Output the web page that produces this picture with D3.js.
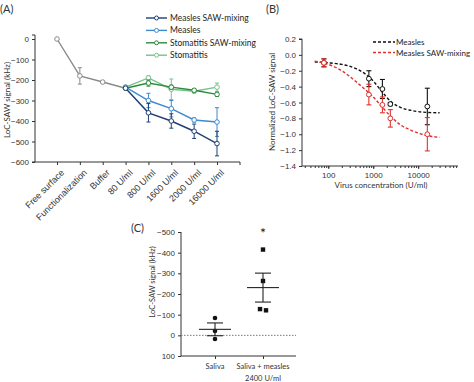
<!DOCTYPE html>
<html>
<head>
<meta charset="utf-8">
<script src="https://cdn.jsdelivr.net/npm/d3@7"></script>
<style>
  body { margin: 0; background: #fff; }
  svg { font-family: Lato, "Open Sans", sans-serif; }
  .axis path, .axis line { stroke: #333; }
  .axis text { fill: #333; font-size: 8px; }
</style>
</head>
<body>
<svg id="chart" width="474" height="382"></svg>
<script>
"use strict";

// ---- panel A data ----
const catsA = ["Free surface", "Functionalization", "Buffer", "80 U/ml", "800 U/ml", "1600 U/ml", "2000 U/ml", "16000 U/ml"];
const ticksA = [0, -100, -200, -300, -400, -500, -600];
const baseCats = ["Free surface", "Functionalization", "Buffer", "80 U/ml"];
const baseVals = [0, -180, -210, -240];
const baseErr = [0, 40, 5, 5];
const virusCats = ["80 U/ml", "800 U/ml", "1600 U/ml", "2000 U/ml", "16000 U/ml"];
const measlesSawVals = [-240, -360, -400, -450, -510];
const measlesSawErr = [5, 45, 35, 35, 60];
const measlesVals = [-235, -300, -340, -395, -405];
const measlesErr = [5, 35, 40, 10, 70];
const stomSawVals = [-240, -215, -235, -250, -270];
const stomSawErr = [5, 15, 10, 8, 10];
const stomVals = [-235, -190, -245, -255, -235];
const stomErr = [5, 10, 50, 8, 20];
const seriesNamesA = ["Measles SAW-mixing", "Measles", "Stomatitis SAW-mixing", "Stomatitis"];

// ---- panel B data ----
const concB = [80, 800, 1600, 2400, 16000];
const measlesNorm = [-0.10, -0.30, -0.43, -0.62, -0.65];
const measlesNormErr = [0.05, 0.10, 0.12, 0.02, 0.23];
const sawNorm = [-0.10, -0.50, -0.63, -0.80, -1.00];
const sawNormErr = [0.05, 0.13, 0.10, 0.11, 0.21];
const fitX = [50, 100, 200, 400, 700, 1000, 1600, 2500, 4000, 7000, 12000, 30000];
const fitMeasles = [-0.09, -0.10, -0.12, -0.17, -0.25, -0.33, -0.47, -0.59, -0.66, -0.70, -0.72, -0.73];
const fitSaw = [-0.08, -0.12, -0.20, -0.33, -0.45, -0.53, -0.66, -0.78, -0.88, -0.95, -1.00, -1.04];
const ticksB = [0.2, 0.0, -0.2, -0.4, -0.6, -0.8, -1.0, -1.2, -1.4];
const seriesNamesB = ["Measles", "Measles SAW-mixing"];

// ---- panel C data ----
const catsC = ["Saliva", "Saliva + measles"];
const ticksC = [-500, -400, -300, -200, -100, 0, 100];
const salivaPts = [-84, -21, 18];
const salivaMean = -29, salivaSem = 31;
const measlesPts = [-415, -263, -127, -121];
const measlesJit = [0, 0, -3, 3];
const measlesMean = -231, measlesSem = 70;

const svg = d3.select("#chart");

// ================= Panel A =================
const colA = ["#1d3f74", "#3d8ad0", "#2b8a3e", "#79c08a"];
const xA = d3.scalePoint().domain(catsA).range([57, 217]);
const yA = d3.scaleLinear().domain([-600, 0]).range([162, 39]);

const gA = svg.append("g");
gA.append("g").attr("class", "axis")
  .attr("transform", "translate(35,0)")
  .call(d3.axisLeft(yA).tickValues(ticksA).tickSize(3).tickFormat(d3.format("d")))
  .call(g => g.select(".domain").attr("d", "M-3,35H0V162H-3"));
const axA = gA.append("g").attr("class", "axis")
  .attr("transform", "translate(0,162)")
  .call(d3.axisBottom(xA).tickSize(3).tickSizeOuter(0));
axA.select(".domain").attr("d", "M35,0H240V3");
axA.selectAll("text")
  .attr("text-anchor", "end")
  .attr("dy", 0)
  .style("font-size", "9px")
  .attr("transform", "translate(3,7) rotate(-45)");

gA.append("text").attr("transform", "translate(10,100) rotate(-90)")
  .attr("text-anchor", "middle").attr("font-size", 8).attr("fill", "#333")
  .text("LoC-SAW signal (kHz)");
gA.append("text").attr("x", 0).attr("y", 13).attr("font-size", 11).attr("fill", "#333").text("(A)");

const lineA = d3.line().x(d => xA(d.c)).y(d => yA(d.v));

function drawSeriesA(cats, vals, errs, color) {
  const pts = cats.map((c, i) => ({ c: c, v: vals[i], e: errs[i] }));
  gA.append("path").datum(pts).attr("d", lineA)
    .attr("fill", "none").attr("stroke", color).attr("stroke-width", 1.4);
  const eb = gA.append("g").attr("stroke", color).attr("stroke-width", 1);
  pts.filter(d => d.e > 6).forEach(d => {
    const x = xA(d.c);
    eb.append("line").attr("x1", x).attr("x2", x).attr("y1", yA(d.v - d.e)).attr("y2", yA(d.v + d.e));
    eb.append("line").attr("x1", x - 2).attr("x2", x + 2).attr("y1", yA(d.v - d.e)).attr("y2", yA(d.v - d.e));
    eb.append("line").attr("x1", x - 2).attr("x2", x + 2).attr("y1", yA(d.v + d.e)).attr("y2", yA(d.v + d.e));
  });
  gA.append("g").selectAll("circle").data(pts).join("circle")
    .attr("cx", d => xA(d.c)).attr("cy", d => yA(d.v)).attr("r", 2.3)
    .attr("fill", "#fff").attr("stroke", color).attr("stroke-width", 1);
}

drawSeriesA(baseCats, baseVals, baseErr, "#8a8a8a");
drawSeriesA(virusCats, stomVals, stomErr, colA[3]);
drawSeriesA(virusCats, stomSawVals, stomSawErr, colA[2]);
drawSeriesA(virusCats, measlesVals, measlesErr, colA[1]);
drawSeriesA(virusCats, measlesSawVals, measlesSawErr, colA[0]);

const legA = gA.append("g");
seriesNamesA.forEach((n, i) => {
  const y = 18 + i * 12.4;
  legA.append("line").attr("x1", 146).attr("x2", 167).attr("y1", y).attr("y2", y)
    .attr("stroke", colA[i]).attr("stroke-width", 1.4);
  legA.append("circle").attr("cx", 156.5).attr("cy", y).attr("r", 2)
    .attr("fill", "#fff").attr("stroke", colA[i]);
  legA.append("text").attr("x", 170).attr("y", y + 3).attr("font-size", 8.5).attr("fill", "#222").text(n);
});

// ================= Panel B =================
const colB = ["#111", "#e0302c"];
const xB = d3.scaleLog().domain([26, 77000]).range([302, 458]);
const yB = d3.scaleLinear().domain([-1.4, 0.2]).range([166, 39]);

const gB = svg.append("g");
gB.append("g").attr("class", "axis")
  .attr("transform", "translate(302,0)")
  .call(d3.axisLeft(yB).tickValues(ticksB).tickSize(3).tickFormat(d3.format(".1f")))
  .call(g => g.select(".domain").attr("d", "M-3,39H0V166"));
const minorB = [];
[10, 100, 1000, 10000].forEach(dec => { for (let k = 1; k < 10; k++) { const v = dec * k; if (v >= 30 && v <= 70000) minorB.push(v); } });
const axB = gB.append("g").attr("class", "axis")
  .attr("transform", "translate(0,166)")
  .call(d3.axisBottom(xB).tickValues(minorB).tickSize(2).tickFormat(""));
axB.select(".domain").attr("d", "M302,0H458");
gB.append("g").attr("class", "axis")
  .attr("transform", "translate(0,166)")
  .call(d3.axisBottom(xB).tickValues([100, 1000, 10000]).tickSize(3).tickFormat(d3.format("d")))
  .call(g => g.select(".domain").remove());

gB.append("text").attr("x", 381).attr("y", 188).attr("text-anchor", "middle")
  .attr("font-size", 8).attr("fill", "#333").text("Virus concentration (U/ml)");
gB.append("text").attr("transform", "translate(275,102) rotate(-90)")
  .attr("text-anchor", "middle").attr("font-size", 8).attr("fill", "#333")
  .text("Normalized LoC-SAW signal");
gB.append("text").attr("x", 266).attr("y", 13).attr("font-size", 11).attr("fill", "#333").text("(B)");

const fitLine = d3.line().x(d => xB(d[0])).y(d => yB(d[1])).curve(d3.curveMonotoneX);
[fitMeasles, fitSaw].forEach((f, i) => {
  gB.append("path").datum(fitX.map((x, j) => [x, f[j]])).attr("d", fitLine)
    .attr("fill", "none").attr("stroke", colB[i]).attr("stroke-width", 1.4)
    .attr("stroke-dasharray", "3,2");
});

function drawSeriesB(vals, errs, color) {
  const pts = concB.map((c, i) => ({ c: c, v: vals[i], e: errs[i] }));
  const eb = gB.append("g").attr("stroke", color).attr("stroke-width", 1.1);
  pts.forEach(d => {
    const x = xB(d.c);
    eb.append("line").attr("x1", x).attr("x2", x).attr("y1", yB(d.v - d.e)).attr("y2", yB(d.v + d.e));
    eb.append("line").attr("x1", x - 2.5).attr("x2", x + 2.5).attr("y1", yB(d.v - d.e)).attr("y2", yB(d.v - d.e));
    eb.append("line").attr("x1", x - 2.5).attr("x2", x + 2.5).attr("y1", yB(d.v + d.e)).attr("y2", yB(d.v + d.e));
  });
  gB.append("g").selectAll("circle").data(pts).join("circle")
    .attr("cx", d => xB(d.c)).attr("cy", d => yB(d.v)).attr("r", 2.4)
    .attr("fill", "#fff").attr("stroke", color).attr("stroke-width", 1);
}
drawSeriesB(measlesNorm, measlesNormErr, colB[0]);
drawSeriesB(sawNorm, sawNormErr, colB[1]);

seriesNamesB.forEach((n, i) => {
  const y = 42 + i * 10.5;
  gB.append("line").attr("x1", 373).attr("x2", 395).attr("y1", y).attr("y2", y)
    .attr("stroke", colB[i]).attr("stroke-width", 1.4).attr("stroke-dasharray", "3,2");
  gB.append("text").attr("x", 396).attr("y", y + 3).attr("font-size", 8).attr("fill", "#222").text(n);
});

// ================= Panel C =================
const xC = d3.scalePoint().domain(catsC).range([215, 263]);
const yC = d3.scaleLinear().domain([100, -500]).range([356, 232]);

const gC = svg.append("g");
gC.append("g").attr("class", "axis")
  .attr("transform", "translate(181,0)")
  .call(d3.axisLeft(yC).tickValues(ticksC).tickSize(3).tickFormat(d3.format("d")))
  .call(g => g.select(".domain").attr("d", "M0,232V356"));
gC.append("g").attr("class", "axis")
  .attr("transform", "translate(0,356)")
  .call(d3.axisBottom(xC).tickSize(3).tickFormat(""))
  .call(g => g.select(".domain").attr("d", "M181,0H296"));
gC.append("text").attr("x", 215).attr("y", 369).attr("text-anchor", "middle")
  .attr("font-size", 7.5).attr("fill", "#333").text(catsC[0]);
gC.append("text").attr("x", 263).attr("y", 369).attr("text-anchor", "middle")
  .attr("font-size", 7.5).attr("fill", "#333").text("Saliva + measles");
gC.append("text").attr("x", 263).attr("y", 381).attr("text-anchor", "middle")
  .attr("font-size", 7.5).attr("fill", "#333").text("2400 U/ml");

gC.append("line").attr("x1", 181).attr("x2", 296).attr("y1", yC(0)).attr("y2", yC(0))
  .attr("stroke", "#777").attr("stroke-dasharray", "1.5,1.5");

gC.append("text").attr("transform", "translate(155,282) rotate(-90)")
  .attr("text-anchor", "middle").attr("font-size", 7.5).attr("fill", "#333")
  .text("LoC-SAW signal (kHz)");
gC.append("text").attr("x", 131).attr("y", 232).attr("font-size", 11).attr("fill", "#333").text("(C)");

function meanSem(cat, mean, sem) {
  const x = xC(cat);
  const g = gC.append("g").attr("stroke", "#222").attr("stroke-width", 1.1);
  g.append("line").attr("x1", x - 16).attr("x2", x + 16).attr("y1", yC(mean)).attr("y2", yC(mean));
  g.append("line").attr("x1", x).attr("x2", x).attr("y1", yC(mean - sem)).attr("y2", yC(mean + sem));
  g.append("line").attr("x1", x - 8).attr("x2", x + 8).attr("y1", yC(mean - sem)).attr("y2", yC(mean - sem));
  g.append("line").attr("x1", x - 8).attr("x2", x + 8).attr("y1", yC(mean + sem)).attr("y2", yC(mean + sem));
}
gC.append("g").selectAll("circle").data(salivaPts).join("circle")
  .attr("cx", xC(catsC[0])).attr("cy", d => yC(d)).attr("r", 2.3).attr("fill", "#111");
gC.append("g").selectAll("rect").data(measlesPts).join("rect")
  .attr("x", (d, i) => xC(catsC[1]) + measlesJit[i] - 2.2).attr("y", d => yC(d) - 2.2)
  .attr("width", 4.4).attr("height", 4.4).attr("fill", "#111");
meanSem(catsC[0], salivaMean, salivaSem);
meanSem(catsC[1], measlesMean, measlesSem);
gC.append("text").attr("x", xC(catsC[1])).attr("y", 238).attr("text-anchor", "middle")
  .attr("font-size", 14).attr("fill", "#111").text("*");
</script>
</body>
</html>
